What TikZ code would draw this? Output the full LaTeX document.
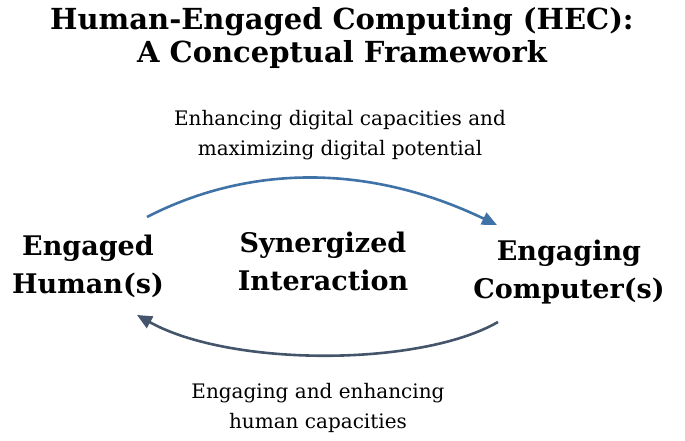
\documentclass[tikz,border=0pt]{standalone}
\usepackage{fontspec}
\setmainfont{DejaVu Serif}
\usetikzlibrary{arrows.meta}
\definecolor{topblue}{HTML}{3F72A6}
\definecolor{slate}{HTML}{44546A}
\tikzset{
  heading/.style={align=center,font=\bfseries\fontsize{29}{33}\selectfont},
  party/.style={align=center,font=\bfseries\fontsize{27}{38}\selectfont},
  caption/.style={align=center,font=\fontsize{20}{30}\selectfont},
  flow/.style={line width=2.6pt,-{Triangle[length=15pt,width=13pt]}}
}
\begin{document}
\begin{tikzpicture}[x=1pt,y=-1pt]
\useasboundingbox (0,0) rectangle (685,441);
\node[heading] (title) at (342,38) {Human-Engaged Computing (HEC):\\A Conceptual Framework};
\node[caption] (upper) at (340,135) {Enhancing digital capacities and\\maximizing digital potential};
\node[party] (human) at (88,266) {Engaged\\Human(s)};
\node[party] (synergy) at (323,261) {Synergized\\Interaction};
\node[party] (computer) at (569,272) {Engaging\\Computer(s)};
\node[caption] (lower) at (318,408) {Engaging and enhancing\\human capacities};
\coordinate (hout) at (147,217);
\coordinate (cin) at (497,225);
\coordinate (cout) at (498,322);
\coordinate (hin) at (137,315);
\draw[flow,topblue] (hout) .. controls (250,164) and (370,164) .. (cin);
\draw[flow,slate] (cout) .. controls (420,367) and (230,367) .. (hin);
\end{tikzpicture}
\end{document}
